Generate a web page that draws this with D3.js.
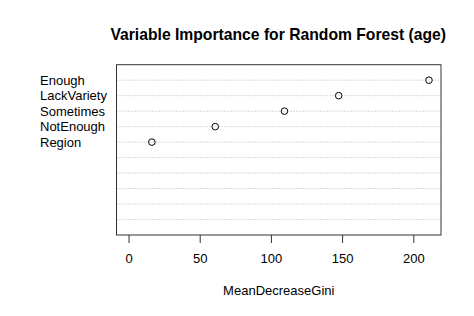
<!DOCTYPE html>
<html>
<head>
<meta charset="utf-8">
<script src="https://cdn.jsdelivr.net/npm/d3@7"></script>
<style>
  body { margin: 0; background: #fff; }
  text { font-family: "Liberation Sans", Arial, sans-serif; fill: #000; }
</style>
</head>
<body>
<div id="chart"></div>
<script>
// rows listed top to bottom; the lower five rows have no label in the original
var labels = ["Enough", "LackVariety", "Sometimes", "NotEnough", "Region", "", "", "", "", ""];
var values = [211, 147.6, 109.5, 60.9, 16.4, null, null, null, null, null];
var xTicks = [0, 50, 100, 150, 200];

var width = 474, height = 316;
var box = { left: 116.5, right: 441, top: 64.7, bottom: 235 };

var svg = d3.select("#chart").append("svg")
  .attr("width", width)
  .attr("height", height);

// R style: xlim c(0, max) expanded by 4% each side
var xmax = d3.max(values);
var pad = 0.04 * xmax;
var x = d3.scaleLinear()
  .domain([0 - pad, xmax + pad])
  .range([box.left, box.right]);

// dotchart: ylim c(0, n+1), no expansion
var n = labels.length;
var y = d3.scaleLinear()
  .domain([0, n + 1])
  .range([box.bottom, box.top]);
var rowY = function (i) { return y(n - i); };

// dotted guide lines
svg.append("g")
  .selectAll("line")
  .data(labels)
  .enter().append("line")
  .attr("x1", box.left)
  .attr("x2", box.right)
  .attr("y1", function (d, i) { return rowY(i); })
  .attr("y2", function (d, i) { return rowY(i); })
  .attr("stroke", "#a8a8a8")
  .attr("stroke-width", 0.9)
  .attr("stroke-dasharray", "1,2");

// box
svg.append("rect")
  .attr("x", box.left)
  .attr("y", box.top)
  .attr("width", box.right - box.left)
  .attr("height", box.bottom - box.top)
  .attr("fill", "none")
  .attr("stroke", "#333")
  .attr("stroke-width", 1);

// points
svg.append("g")
  .selectAll("circle")
  .data(values.map(function (v, i) { return { v: v, i: i }; }).filter(function (d) { return d.v != null; }))
  .enter().append("circle")
  .attr("cx", function (d) { return x(d.v); })
  .attr("cy", function (d) { return rowY(d.i); })
  .attr("r", 3.3)
  .attr("fill", "none")
  .attr("stroke", "#000")
  .attr("stroke-width", 1);

// row labels
svg.append("g")
  .selectAll("text")
  .data(labels)
  .enter().append("text")
  .attr("x", 40)
  .attr("y", function (d, i) { return rowY(i); })
  .attr("dy", "0.36em")
  .style("font-size", "13px")
  .text(function (d) { return d; });

// x axis
var xAxis = d3.axisBottom(x)
  .tickValues(xTicks)
  .tickSize(8)
  .tickPadding(11)
  .tickFormat(d3.format("d"));

var gx = svg.append("g")
  .attr("transform", "translate(0," + box.bottom + ")")
  .call(xAxis);
gx.select(".domain").remove();
gx.selectAll(".tick line").attr("stroke", "#333");
gx.selectAll(".tick text")
  .style("font-size", "13px")
  .style("font-family", "'Liberation Sans', Arial, sans-serif");

svg.append("text")
  .attr("x", (box.left + box.right) / 2)
  .attr("y", 295)
  .attr("text-anchor", "middle")
  .style("font-size", "13px")
  .text("MeanDecreaseGini");

// title
svg.append("text")
  .attr("x", (box.left + box.right) / 2 - 0.5)
  .attr("y", 39.5)
  .attr("text-anchor", "middle")
  .style("font-size", "15.7px")
  .style("font-weight", "bold")
  .text("Variable Importance for Random Forest (age)");
</script>
</body>
</html>
